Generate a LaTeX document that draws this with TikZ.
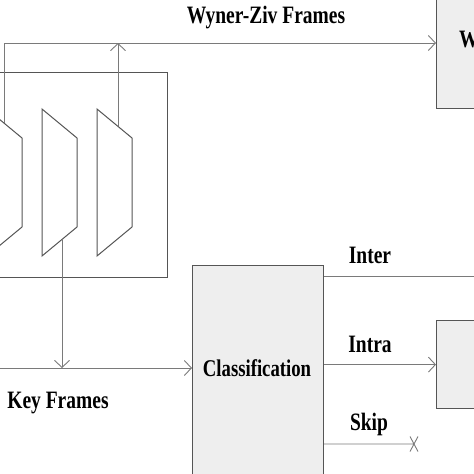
\documentclass[tikz,border=0pt]{standalone}
\usepackage{fontspec}
\setmainfont{Liberation Serif}
\usetikzlibrary{arrows.meta}
\definecolor{linegray}{HTML}{7A7A7A}
\definecolor{boxgray}{HTML}{555555}
\definecolor{boxfill}{HTML}{EEEEEE}
\newcommand{\sqz}[1]{\scalebox{0.78}[1]{\bfseries #1}}
\tikzset{
    blk/.style = {draw = boxgray, fill = boxfill, line width = 1.2pt, rectangle, anchor = north west, inner sep = 0pt},
    lbl/.style = {font = \fontsize{25}{25}\selectfont, anchor = base, inner sep = 0pt},
    con/.style = {draw = linegray, line width = 0.9pt, -{Straight Barb[length = 7pt, width = 15pt]}},
}
\begin{document}
\begin{tikzpicture}[x = 1pt, y = -1pt]
        \useasboundingbox (0, 0) rectangle (474, 474);
        \clip (0, 0) rectangle (474, 474);

        % frame splitter
        \draw [boxgray, line width = 1pt] (-10, 72) rectangle (167, 277);
        \draw [boxgray, line width = 1pt]
            \foreach\i in {0, 1, 2} {
                (-13 + 55*\i, 109) -- (22 + 55*\i, 138) -- (22 + 55*\i, 227) -- (-13 + 55*\i, 256) -- cycle
            };
        \coordinate (t1) at (4, 123);
        \coordinate (t3) at (118, 126);
        \coordinate (b2) at (62, 239);
        \coordinate (wzup) at (118, 43);
        \coordinate (kin) at (-5, 368);
        \coordinate (kdown) at (62, 368);

        % blocks
        \node [blk, minimum width = 110pt, minimum height = 130pt] (wz) at (436, -22) {};
        \node [blk, minimum width = 131pt, minimum height = 220pt] (cls) at (192, 265) {};
        \node [blk, minimum width = 110pt, minimum height = 88pt] (intra) at (436, 320) {};
        \node [lbl, anchor = base west] (wzt) at (459, 47) {\sqz{W}};
        \node [lbl, font = \fontsize{24}{24}\selectfont] (clst) at (257, 376) {\sqz{Classification}};

        % connectors
        \draw [con] (t1) |- (wz.west |- wzup);
        \draw [con] (t3) -- (wzup);
        \draw [con] (b2) -- (kdown);
        \draw [con] (kin) -- (cls.west |- kin);
        \coordinate (inter) at (480, 276);
        \coordinate (skip) at (414, 444);
        \draw [linegray, line width = 0.9pt] (cls.east |- inter) -- (inter);
        \draw [con] (cls.east |- intra.west) -- (intra.west);
        \draw [linegray, line width = 0.9pt] (cls.east |- skip) -- (skip)
            (skip) +(-4, -7.5) -- +(4, 7.5)
            (skip) +(4, -7.5) -- +(-4, 7.5);

        % labels
        \node [lbl] (wzl) at (266, 23) {\sqz{Wyner-Ziv Frames}};
        \node [lbl] (keyl) at (58, 408) {\sqz{Key Frames}};
        \node [lbl] (interl) at (370, 263) {\sqz{Inter}};
        \node [lbl] (intral) at (370, 352) {\sqz{Intra}};
        \node [lbl] (skipl) at (369, 430) {\sqz{Skip}};
    \end{tikzpicture}
\end{document}
